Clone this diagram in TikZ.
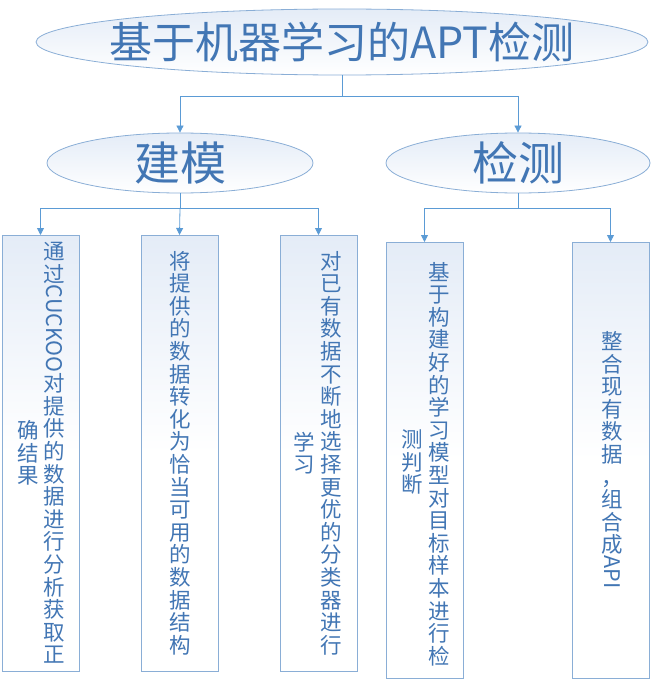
\documentclass[tikz,border=0pt]{standalone}
\usepackage{fontspec}
\newfontfamily\cjk{Noto Sans CJK SC}
\usetikzlibrary{arrows.meta,shapes.geometric}
\definecolor{txt}{HTML}{4276B4}
\definecolor{bord}{HTML}{8AAED6}
\definecolor{lnk}{HTML}{5B9BD5}
\definecolor{shd}{HTML}{E4ECF7}
\tikzset{
  ell/.style={ellipse,draw=bord,thick,top color=shd,bottom color=white,inner sep=0pt},
  etxt/.style={text=txt,inner sep=0pt},
  col/.style={text=txt,align=center,inner sep=0pt,font=\cjk\fontsize{21.5}{22.6}\selectfont},
  box/.style={draw=bord,thick,top color=shd,bottom color=white,middle color=white},
  conn/.style={draw=lnk,thick,-{Triangle[length=7pt,width=7pt]}},
  ln/.style={draw=lnk,thick}
}
\newcommand{\rl}[1]{\sbox0{\rotatebox{-90}{#1}}\raisebox{\dimexpr\dp0-0.3em\relax}{\usebox0}}
\begin{document}
\begin{tikzpicture}[x=1pt,y=-1pt]
\useasboundingbox (0,0) rectangle (653,682);
\node[ell,minimum width=612pt,minimum height=66pt] (top) at (342,42) {};
\node[etxt,font=\cjk\fontsize{43}{46}\selectfont] (topt) at (top.center) {基于机器学习的APT检测};
\node[ell,minimum width=266pt,minimum height=60pt] (jm) at (180,163) {};
\node[etxt,font=\cjk\fontsize{46}{48}\selectfont] (jmt) at (jm.center) {建模};
\node[ell,minimum width=264pt,minimum height=60pt] (jc) at (518,163) {};
\node[etxt,font=\cjk\fontsize{46}{48}\selectfont] (jct) at (jc.center) {检测};
% boxes
\path[box] (2,235) rectangle (79,671); \coordinate (b1) at (40.5,235);
\path[box] (141,235) rectangle (218,671); \coordinate (b2) at (179.5,235);
\path[box] (280,235) rectangle (357,671); \coordinate (b3) at (318.5,235);
\path[box] (386,242) rectangle (463,678); \coordinate (b4) at (424.5,242);
\path[box] (572,242) rectangle (649,678); \coordinate (b5) at (610.5,242);
% connectors
\coordinate (t1) at (342,96);
\draw[ln] (top.south) -- (t1);
\draw[conn] (t1) -| (jm.north);
\draw[conn] (t1) -| (jc.north);
\coordinate (m1) at (180,208);
\draw[ln] (jm.south) -- (m1);
\draw[conn] (m1) -| (b1);
\draw[conn] (m1) -- (b2);
\draw[conn] (m1) -| (b3);
\coordinate (c1) at (518,208);
\draw[ln] (jc.south) -- (c1);
\draw[conn] (c1) -| (b4);
\draw[conn] (c1) -| (b5);
% texts
\node[col] (x1a) at (54,453) {通\\过\\\rl{CUCKOO}\\对\\提\\供\\的\\数\\据\\进\\行\\分\\析\\获\\取\\正};
\node[col] (x1b) at (28,453) {确\\结\\果};
\node[col] (x2) at (180,453) {将\\提\\供\\的\\数\\据\\转\\化\\为\\恰\\当\\可\\用\\的\\数\\据\\结\\构};
\node[col] (x3a) at (331,453) {对\\已\\有\\数\\据\\不\\断\\地\\选\\择\\更\\优\\的\\分\\类\\器\\进\\行};
\node[col] (x3b) at (304,453) {学\\习};
\node[col] (x4a) at (439,464) {基\\于\\构\\建\\好\\的\\学\\习\\模\\型\\对\\目\\标\\样\\本\\进\\行\\检};
\node[col] (x4b) at (412,462) {测\\判\\断};
\node[col] (x5) at (612,460) {整\\合\\现\\有\\数\\据\\，\\组\\合\\成\\\rl{API}};
\end{tikzpicture}
\end{document}
